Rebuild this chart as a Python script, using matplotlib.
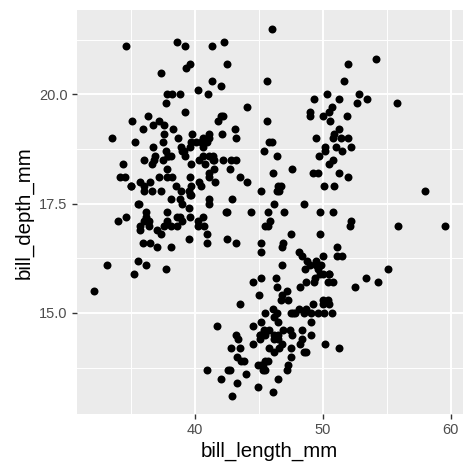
import matplotlib
matplotlib.use("Agg")
import matplotlib.pyplot as plt
from matplotlib.ticker import FixedLocator

adelie_len = [39.1,39.5,40.3,36.7,39.3,38.9,39.2,34.1,42.0,37.8,37.8,41.1,38.6,34.6,36.6,38.7,42.5,34.4,46.0,37.8,37.7,35.9,38.2,38.8,35.3,40.6,40.5,37.9,40.5,39.5,37.2,39.5,40.9,36.4,39.2,38.8,42.2,37.6,39.8,36.5,40.8,36.0,44.1,37.0,39.6,41.1,37.5,36.0,42.3,39.6,40.1,35.0,42.0,34.5,41.4,39.0,40.6,36.5,37.6,35.7,41.3,37.6,41.1,36.4,41.6,35.5,41.1,35.9,41.8,33.5,39.7,39.6,45.8,35.5,42.8,40.9,37.2,36.2,42.1,34.6,42.9,36.7,35.1,37.3,41.3,36.3,36.9,38.3,38.9,35.7,41.1,34.0,39.6,36.2,40.8,38.1,40.3,33.1,43.2,35.0,41.0,37.7,37.8,37.9,39.7,38.6,38.2,38.1,43.2,38.1,45.6,39.7,42.2,39.6,42.7,38.6,37.3,35.7,41.1,36.2,37.7,40.2,41.4,35.2,40.6,38.8,41.5,39.0,44.1,38.5,43.1,36.8,37.5,38.1,41.1,35.6,40.2,37.0,39.7,40.2,40.6,32.1,40.7,37.3,39.0,39.2,36.6,36.0,37.8,36.0,41.5]
adelie_dep = [18.7,17.4,18.0,19.3,20.6,17.8,19.6,18.1,20.2,17.1,17.3,17.6,21.2,21.1,17.8,19.0,20.7,18.4,21.5,18.3,18.7,19.2,18.1,17.2,18.9,18.6,17.9,18.6,18.9,16.7,18.1,17.8,18.9,17.0,21.1,20.0,18.5,19.3,19.1,18.0,18.4,18.5,19.7,16.9,18.8,19.0,18.9,17.9,21.2,17.7,18.9,17.9,19.5,18.1,18.6,17.5,18.8,16.6,19.1,16.9,21.1,17.0,18.2,17.1,18.0,16.2,19.1,16.6,19.4,19.0,18.4,17.2,18.9,17.5,18.5,16.8,19.4,16.1,19.1,17.2,17.6,18.8,19.4,17.8,20.3,19.5,18.6,19.2,18.8,18.0,18.1,17.1,18.1,17.3,18.9,18.6,18.5,16.1,18.5,17.9,20.0,16.0,20.0,18.6,18.9,17.2,20.0,17.0,19.0,16.5,20.3,17.7,19.5,20.7,18.3,17.0,20.5,17.0,18.6,17.2,19.8,17.0,18.5,15.9,19.0,17.6,18.3,17.1,18.0,17.9,19.2,18.5,18.5,17.6,17.5,17.5,20.1,16.5,17.9,17.1,17.2,15.5,17.0,16.8,18.7,18.6,18.4,17.8,18.1,17.1,18.5]

gentoo_len = [46.1,50.0,48.7,50.0,47.6,46.5,45.4,46.7,43.3,46.8,40.9,49.0,45.5,48.4,45.8,49.3,42.0,49.2,46.2,48.7,50.2,45.1,46.5,46.3,42.9,46.1,44.5,47.8,48.2,50.0,47.3,42.8,45.1,59.6,49.1,48.4,42.6,44.4,44.0,48.7,42.7,49.6,45.3,49.6,50.5,43.6,45.5,50.5,44.9,45.2,46.6,48.5,45.1,50.1,46.5,45.0,43.8,45.5,43.2,50.4,45.3,46.2,45.7,54.3,45.8,49.8,46.2,49.5,43.5,50.7,47.7,46.4,48.2,46.5,46.4,48.6,47.5,51.1,45.2,45.2,49.1,52.5,47.4,50.0,44.9,50.8,43.4,51.3,47.5,52.1,47.5,52.2,45.5,49.5,44.5,50.8,49.4,46.9,48.4,51.1,48.5,55.9,47.2,49.1,47.3,46.8,41.7,53.4,43.3,48.1,50.5,49.8,43.5,51.5,46.2,55.1,44.5,48.8,47.2,46.8,50.4,45.2,49.9]
gentoo_dep = [13.2,16.3,14.1,15.2,14.5,13.5,14.6,15.3,13.4,15.4,13.7,16.1,13.7,14.6,14.6,15.7,13.5,15.2,14.5,15.1,14.3,14.5,14.5,15.8,13.1,15.1,14.3,15.0,14.3,15.3,15.3,14.2,14.5,17.0,14.8,16.3,13.7,17.3,13.6,15.7,13.7,16.0,13.7,15.0,15.9,13.9,13.9,15.9,13.3,15.8,14.2,14.1,14.4,15.0,14.4,15.4,13.9,15.0,14.5,15.3,13.8,14.9,13.9,15.7,14.2,16.8,14.4,16.2,14.2,15.0,15.0,15.6,15.6,14.8,15.0,16.0,14.2,16.3,13.8,16.4,14.5,15.6,14.6,15.9,13.8,17.3,14.4,14.2,14.0,17.0,15.0,17.1,14.5,16.1,14.7,15.7,15.8,14.6,14.4,16.5,15.0,17.0,15.5,15.0,13.8,16.1,14.7,15.8,14.0,15.1,15.2,15.9,15.2,16.3,14.1,16.0,15.7,16.2,13.7,14.3,15.7,14.8,16.1]

chinstrap_len = [46.5,50.0,51.3,45.4,52.7,45.2,46.1,51.3,46.0,51.3,46.6,51.7,47.0,52.0,45.9,50.5,50.3,58.0,46.4,49.2,42.4,48.5,43.2,50.6,46.7,52.0,50.5,49.5,46.4,52.8,40.9,54.2,42.5,51.0,49.7,47.5,47.6,52.0,46.9,53.5,49.0,46.2,50.9,45.5,50.9,50.8,50.1,49.0,51.5,49.8,48.1,51.4,45.7,50.7,42.5,52.2,45.2,49.3,50.2,45.6,51.9,46.8,45.7,55.8,43.5,49.6,50.8,50.2]
chinstrap_dep = [17.9,19.5,19.2,18.7,19.8,17.8,18.2,18.2,18.9,19.9,17.8,20.3,17.3,18.1,17.1,19.6,20.0,17.8,18.6,18.2,17.3,17.5,16.6,19.4,17.9,19.0,18.4,19.0,17.8,20.0,16.6,20.8,16.7,18.8,18.6,16.8,18.3,20.7,16.6,19.9,19.5,17.5,19.1,17.0,17.9,18.5,17.9,19.6,18.7,17.3,16.4,19.0,17.3,19.7,17.3,18.8,16.6,19.9,18.8,19.4,19.5,16.5,17.0,19.8,18.1,18.2,19.0,18.7]

bill_length = adelie_len + gentoo_len + chinstrap_len
bill_depth = adelie_dep + gentoo_dep + chinstrap_dep

x_ticks = [40, 50, 60]
y_ticks = [15.0, 17.5, 20.0]
y_tick_labels = ["15.0", "17.5", "20.0"]

plt.rcParams['font.family'] = ['Liberation Sans', 'DejaVu Sans']

fig = plt.figure(figsize=(4.74, 4.74), dpi=100)
ax = fig.add_axes([0.1614, 0.1257, 0.9768 - 0.1614, 0.978 - 0.1257])
ax.set_facecolor('#EBEBEB')
for s in ax.spines.values():
    s.set_visible(False)

ax.scatter(bill_length, bill_depth, s=33, color='black', linewidths=0, zorder=3)

xmin, xmax = min(bill_length), max(bill_length)
ymin, ymax = min(bill_depth), max(bill_depth)
xe = (xmax - xmin) * 0.05
ye = (ymax - ymin) * 0.05
ax.set_xlim(xmin - xe, xmax + xe)
ax.set_ylim(ymin - ye, ymax + ye)

ax.xaxis.set_major_locator(FixedLocator(x_ticks))
ax.yaxis.set_major_locator(FixedLocator(y_ticks))
ax.set_yticklabels(y_tick_labels)
ax.xaxis.set_minor_locator(FixedLocator([35, 45, 55]))
ax.yaxis.set_minor_locator(FixedLocator([13.75, 16.25, 18.75, 21.25]))

ax.grid(which='major', color='white', linewidth=1.4, zorder=1)
ax.grid(which='minor', color='white', linewidth=0.7, zorder=1)
ax.set_axisbelow(True)

ax.tick_params(which='major', length=3.5, width=1.0, color='#333333',
               labelcolor='#4D4D4D', labelsize=10.5, pad=3)
ax.tick_params(which='minor', length=0)

ax.set_xlabel('bill_length_mm', fontsize=14.7, color='black', labelpad=3)
ax.set_ylabel('bill_depth_mm', fontsize=14.7, color='black', labelpad=4)

fig.savefig('out.png', dpi=100)
